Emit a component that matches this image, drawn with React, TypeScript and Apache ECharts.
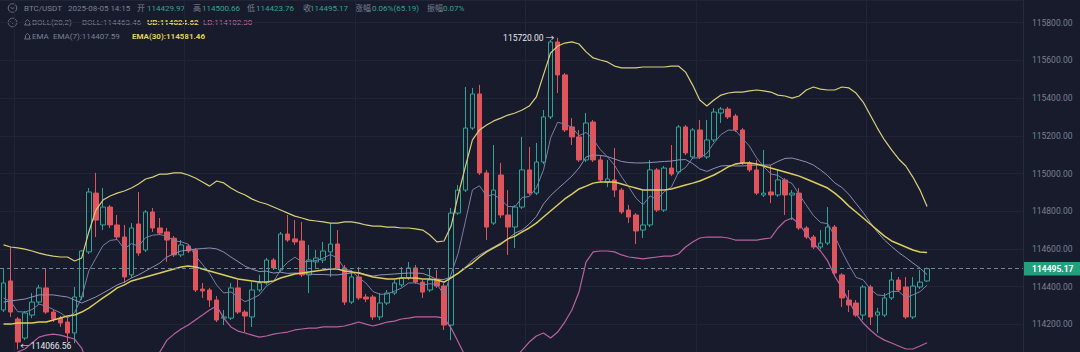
import React, { useEffect, useRef } from 'react';
import * as echarts from 'echarts';

const SLOT_COUNT = 144;
const SLOTS = Array.from({ length: SLOT_COUNT }, (_, i) => String(i));

const OPEN = [114276,114430,114228,114127,114249,114318,114393,114265,114233,114212,
114154,114345,114584,114896,114727,114822,114727,114663,114462,114732,
114594,114796,114711,114690,114657,114568,114615,114594,114387,114382,
114329,114233,114233,114393,114265,114239,114382,114419,114541,114488,
114679,114653,114642,114462,114531,114541,114584,114626,114499,114318,
114451,114345,114345,114239,114313,114366,114409,114446,114499,114424,
114382,114440,114403,114196,114790,114912,115241,115422,115003,114737,
114992,114780,114716,114822,115019,114896,115061,115300,115698,115523,
115247,115194,115072,115273,115072,114955,114966,114912,114806,114780,
114700,114727,115019,114806,115029,115008,115247,115088,115231,115088,
115178,115321,115342,115305,115231,115056,115019,114886,114902,114886,
114966,114886,114896,114711,114663,114610,114631,114716,114462,114329,
114313,114249,114398,114249,114249,114340,114435,114398,114239,114398,
114429.97];

const CLOSE = [114419,114265,114106,114260,114318,114393,114265,114228,114207,114154,
114345,114589,114902,114753,114822,114727,114663,114451,114711,114578,
114796,114711,114684,114647,114568,114621,114589,114382,114377,114329,
114223,114239,114393,114265,114244,114382,114419,114541,114499,114679,
114647,114637,114462,114541,114552,114589,114626,114499,114318,114451,
114340,114334,114239,114313,114366,114419,114446,114499,114424,114371,
114435,114403,114196,114790,114912,115241,115422,115003,114716,114912,
114780,114716,114822,115019,114896,115061,115300,115698,115523,115231,
115194,115072,115268,115072,114966,114971,114912,114796,114769,114695,
114727,115019,114806,115029,114997,115247,115109,115231,115088,115178,
115326,115342,115300,115231,115056,115019,114896,114896,114886,114966,
114886,114896,114711,114663,114610,114631,114716,114472,114340,114302,
114249,114398,114239,114265,114340,114435,114382,114239,114403,114424,
114495.17];

const LOW = [114265,114239,114066.56,114116,114233,114308,114255,114212,114186,114106,
114100,114329,114573,114663,114700,114711,114647,114419,114446,114563,
114584,114690,114674,114531,114557,114557,114578,114371,114340,114292,
114212,114196,114223,114255,114159,114186,114371,114409,114488,114478,
114637,114621,114451,114366,114499,114525,114451,114488,114302,114308,
114329,114318,114223,114223,114302,114356,114398,114435,114414,114340,
114371,114393,114170,114116,114780,114902,115231,114992,114647,114727,
114764,114568,114605,114812,114886,114886,115050,115289,115427,115220,
115151,115061,115061,115061,114955,114928,114875,114785,114737,114626,
114658,114716,114796,114796,114986,114997,115098,115077,115077,115077,
115167,115268,115289,115220,115045,115008,114886,114875,114843,114875,
114780,114753,114700,114653,114599,114599,114621,114462,114292,114265,
114239,114223,114196,114154,114239,114329,114371,114228,114228,114387,
114423.76];

const HIGH = [114499,114610,114239,114271,114366,114409,114499,114276,114244,114239,
114398,114594,114923,115003,114923,114833,114780,114727,114737,114902,
114806,114817,114764,114711,114668,114647,114626,114605,114419,114393,
114350,114276,114419,114435,114276,114424,114462,114552,114552,114690,
114780,114753,114743,114621,114594,114637,114737,114700,114515,114488,
114504,114361,114356,114366,114382,114435,114504,114531,114515,114435,
114499,114488,114419,114817,114939,115459,115454,115470,115019,115151,
115056,114912,114833,115194,115141,115162,115337,115708,115720,115533,
115294,115231,115321,115284,115098,115072,115135,114923,114833,114790,
114912,115072,115029,115040,115151,115257,115257,115241,115284,115284,
115347,115353,115353,115316,115241,115066,115072,115125,115045,115019,
114976,114912,114923,114721,114674,114700,114822,114727,114472,114382,
114329,114409,114409,114287,114366,114478,114451,114451,114451,114488,
114500.66];

const BOLL_UB = [114621,114610,114605,114599,114589,114578,114568,114562,114557,114557,
114536,114552,114690,114806,114859,114881,114896,114907,114923,114944,
114971,114981,114997,114997,115003,115003,114992,114976,114955,114933,
114960,114950,114923,114902,114886,114864,114849,114838,114822,114806,
114790,114774,114764,114753,114748,114743,114737,114737,114743,114743,
114737,114727,114721,114721,114716,114716,114711,114711,114706,114700,
114674,114637,114642,114721,114886,115035,115178,115231,115257,115279,
115294,115310,115321,115337,115358,115406,115523,115639,115676,115692,
115698,115687,115645,115613,115602,115592,115570,115560,115560,115560,
115565,115565,115565,115565,115570,115570,115538,115469,115390,115358,
115390,115416,115427,115432,115432,115438,115443,115438,115432,115416,
115411,115400,115411,115443,115459,115448,115443,115443,115459,115454,
115427,115379,115310,115241,115178,115125,115077,115040,114981,114912,
114824.62];

const BOLL_MID = [114318,114324,114329,114334,114345,114356,114356,114356,114350,114345,
114329,114313,114329,114345,114366,114387,114409,114424,114446,114462,
114483,114504,114525,114557,114575,114589,114594,114599,114602,114605,
114600,114583,114557,114533,114508,114492,114480,114482,114472,114476,
114470,114472,114470,114467,114464,114464,114462,114462,114467,114472,
114475,114464,114456,114462,114464,114467,114470,114472,114472,114470,
114456,114438,114438,114451,114470,114501,114541,114568,114589,114610,
114631,114653,114684,114700,114732,114772,114838,114883,114918,114952,
114986,115029,115088,115098,115096,115090,115077,115064,115058,115056,
115056,115058,115061,115064,115066,115072,115074,115053,115024,115011,
115027,115040,115042,115040,115040,115042,115045,115045,115045,115064,
115080,115082,115072,115061,115045,115019,114989,114950,114926,114889,
114841,114793,114740,114690,114647,114613,114581,114554,114525,114498,
114463.46];

const BOLL_LB = [114016,114037,114053,114069,114101,114132,114143,114148,114143,114132,
114122,114074,113968,113883,113872,113893,113920,113941,113968,113978,
113994,114026,114053,114116,114148,114175,114196,114223,114249,114276,
114297,114233,114186,114164,114154,114143,114132,114138,114148,114154,
114159,114170,114175,114180,114180,114186,114186,114186,114191,114201,
114212,114201,114191,114201,114212,114217,114228,114233,114239,114239,
114239,114239,114233,114180,114106,114031,113957,113915,113904,113915,
113947,113978,114021,114063,114106,114138,114154,114127,114159,114212,
114276,114371,114531,114584,114589,114589,114584,114568,114557,114552,
114547,114552,114557,114562,114562,114573,114610,114637,114658,114663,
114663,114663,114658,114647,114647,114647,114647,114653,114658,114711,
114748,114764,114732,114679,114631,114589,114536,114456,114393,114323,
114255,114207,114170,114138,114116,114101,114085,114069,114069,114085,
114102.30];

const EMA7 = [114339,114321,114267,114265,114278,114307,114296,114279,114261,114234,
114262,114344,114483,114551,114618,114645,114650,114600,114628,114615,
114660,114673,114676,114668,114643,114638,114625,114564,114518,114470,
114408,114366,114372,114346,114320,114336,114356,114403,114426,114490,
114529,114556,114532,114534,114538,114551,114570,114552,114494,114483,
114447,114419,114374,114359,114361,114375,114392,114419,114420,114408,
114415,114412,114358,114466,114577,114744,114913,114935,114880,114889,
114862,114825,114824,114873,114878,114924,115018,115188,115272,115262,
115245,115201,115218,115181,115127,115088,115044,114982,114929,114870,
114834,114881,114862,114904,114927,115007,115032,115082,115083,115107,
115162,115207,115230,115230,115187,115145,115083,115036,114998,114990,
114964,114947,114888,114832,114777,114740,114734,114668,114586,114515,
114449,114436,114387,114356,114352,114373,114375,114341,114356,114373,
114407.59];

const EMA30 = [114201,114201,114207,114207,114207,114212,114212,114223,114233,114244,
114249,114265,114286,114313,114340,114366,114393,114409,114430,114440,
114451,114462,114472,114483,114493,114504,114509,114504,114493,114483,
114472,114462,114451,114440,114435,114430,114424,114424,114430,114446,
114456,114467,114472,114478,114483,114488,114493,114493,114483,114478,
114472,114462,114451,114446,114440,114440,114446,114446,114446,114440,
114440,114435,114424,114446,114472,114499,114525,114557,114584,114605,
114626,114653,114668,114690,114711,114737,114769,114801,114833,114865,
114891,114918,114933,114949,114955,114955,114955,114944,114933,114923,
114912,114912,114912,114912,114918,114928,114939,114949,114960,114976,
114992,115013,115035,115050,115056,115056,115050,115040,115029,115019,
115008,114997,114986,114971,114955,114939,114923,114896,114864,114827,
114796,114764,114732,114700,114668,114642,114626,114610,114594,114584,
114581.46];

const Y_MIN = 114053.1;
const Y_MAX = 115920.4;
const LAST_PRICE = 114495.17;
const HIGH_MARK = { index: 78, value: 115720 };
const LOW_MARK = { index: 2, value: 114066.56 };

const ROW1 = [
  ['BTC/USDT', 'g'], ['2025-08-05 14:15', 'g'], ['开', 'g'], ['114429.97', 't'],
  ['高', 'g'], ['114500.66', 't'], ['低', 'g'], ['114423.76', 't'], ['收', 'g'],
  ['114495.17', 't'], ['涨幅', 'g'], ['0.06%(65.19)', 't'], ['振幅', 'g'], ['0.07%', 't'],
];
const ROW2 = [['BOLL(20,2)', 'g'], ['BOLL:114463.46', 'g'], ['UB:114824.62', 'y'], ['LB:114102.30', 'p']];
const ROW3 = [['EMA', 'g'], ['EMA(7):114407.59', 'g'], ['EMA(30):114581.46', 'y']];

const ROW1_X = [24, 68, 137, 147, 193, 202, 247, 256, 303, 310, 355, 372, 427, 443];
const ROW2_X = [32, 82, 147, 203];
const ROW3_X = [32, 53, 132];

const BG = '#171b2c';
const UP = '#2fa597';
const DOWN = '#e0545c';
const GRID = '#1f2437';
const FONT = 'Roboto, "Noto Sans CJK SC", sans-serif';
const COLORS: Record<string, string> = { g: '#7b8092', t: '#2fa493', y: '#e2d156', p: '#c8639f' };

function textRow(row: string[][], xs: number[], y: number) {
  return row.map((r, i) => ({
    type: 'text',
    x: xs[i],
    y,
    silent: true,
    style: {
      text: r[0],
      fill: COLORS[r[1]],
      fontSize: 8,
      fontFamily: FONT,
      fontWeight: r[1] === 'y' ? 'bold' : 'normal',
      verticalAlign: 'middle',
    },
  }));
}

function circleIcon(cx: number, cy: number) {
  return [
    { type: 'circle', silent: true, shape: { cx, cy, r: 4.3 }, style: { fill: 'none', stroke: '#6c7183', lineWidth: 1 } },
    { type: 'polyline', silent: true, shape: { points: [[cx - 2, cy - 1], [cx, cy + 1], [cx + 2, cy - 1]] }, style: { fill: 'none', stroke: '#6c7183', lineWidth: 1 } },
  ];
}

function bellIcon(cx: number, cy: number) {
  return [
    {
      type: 'polyline', silent: true,
      shape: { points: [[cx - 3, cy + 2.5], [cx - 2, cy + 1.5], [cx - 2, cy - 1], [cx, cy - 3], [cx + 2, cy - 1], [cx + 2, cy + 1.5], [cx + 3, cy + 2.5], [cx - 3, cy + 2.5]] },
      style: { fill: 'none', stroke: '#6c7183', lineWidth: 1 },
    },
  ];
}

export default function App() {
  const ref = useRef<HTMLDivElement>(null);
  useEffect(() => {
    document.body.style.margin = '0';
    const chart = echarts.init(ref.current!, null, { renderer: 'svg' });
    const candles = OPEN.map((o, i) => [o, CLOSE[i], LOW[i], HIGH[i]]);
    const lineSeries = (name: string, data: number[], color: string, width: number) => ({
      name, type: 'line', data, symbol: 'none', smooth: false, silent: true,
      lineStyle: { color, width }, z: 3,
    });
    chart.setOption({
      animation: false,
      backgroundColor: BG,
      grid: { left: 0, right: 57, top: 0, bottom: 0, containLabel: false },
      xAxis: {
        type: 'category', data: SLOTS, boundaryGap: true,
        axisLine: { show: false }, axisTick: { show: false }, axisLabel: { show: false },
        splitLine: {
          show: true,
          interval: (index: number) => index > 0 && (index - 2) % 24 === 0,
          lineStyle: { color: GRID, width: 1 },
        },
      },
      yAxis: {
        type: 'value', position: 'right', min: Y_MIN, max: Y_MAX,
        splitNumber: 9, minInterval: 200, maxInterval: 200,
        axisLine: { show: true, lineStyle: { color: '#262b3d' } },
        axisTick: { show: false },
        splitLine: { show: true, lineStyle: { color: GRID, width: 1 } },
        axisLabel: {
          margin: 9, color: '#7b8092', fontSize: 8.5, fontFamily: FONT,
          showMinLabel: false, showMaxLabel: false,
          formatter: (v: number) => v.toFixed(2),
        },
      },
      series: [
        {
          name: 'K', type: 'candlestick', data: candles, barWidth: 5, z: 2,
          itemStyle: { color: 'rgba(0,0,0,0)', color0: DOWN, borderColor: UP, borderColor0: DOWN, borderWidth: 1 },
          markLine: {
            silent: true, symbol: ['none', 'none'], animation: false,
            data: [{ yAxis: LAST_PRICE }],
            lineStyle: { type: [4, 3], color: '#6f8791', width: 1 },
            label: {
              show: true, position: 'end', distance: 1,
              formatter: LAST_PRICE.toFixed(2),
              color: '#ffffff', backgroundColor: '#22a07c',
              padding: [3, 8, 2, 8], fontSize: 8.5, fontWeight: 'bold', fontFamily: FONT,
            },
          },
          markPoint: {
            silent: true, symbol: 'circle', symbolSize: 1, animation: false,
            itemStyle: { color: 'rgba(0,0,0,0)' },
            data: [
              { coord: [HIGH_MARK.index, HIGH_MARK.value], label: { position: 'left', distance: 3, formatter: HIGH_MARK.value.toFixed(2) + ' →' } },
              { coord: [LOW_MARK.index, LOW_MARK.value], label: { position: 'right', distance: 2, offset: [0, -3], formatter: '← ' + LOW_MARK.value.toFixed(2) } },
            ],
            label: { show: true, color: '#e8e8ee', fontSize: 8.5, fontFamily: FONT },
          },
        },
        lineSeries('UB', BOLL_UB, '#d7ce7c', 1.2),
        lineSeries('LB', BOLL_LB, '#b9629f', 1.2),
        lineSeries('BOLL', BOLL_MID, '#8d90b6', 1),
        lineSeries('EMA7', EMA7, '#7880a6', 1),
        lineSeries('EMA30', EMA30, '#dccc5e', 1.5),
      ],
      graphic: [
        ...circleIcon(12.5, 8),
        ...circleIcon(12.5, 22.5),
        ...bellIcon(27.5, 22.5),
        ...bellIcon(27.5, 36.5),
        ...textRow(ROW1, ROW1_X, 8),
        ...textRow(ROW2, ROW2_X, 22.5),
        ...textRow(ROW3, ROW3_X, 36.5),
      ],
    });
    return () => chart.dispose();
  }, []);
  return <div ref={ref} style={{ width: 1080, height: 352 }} />;
}
